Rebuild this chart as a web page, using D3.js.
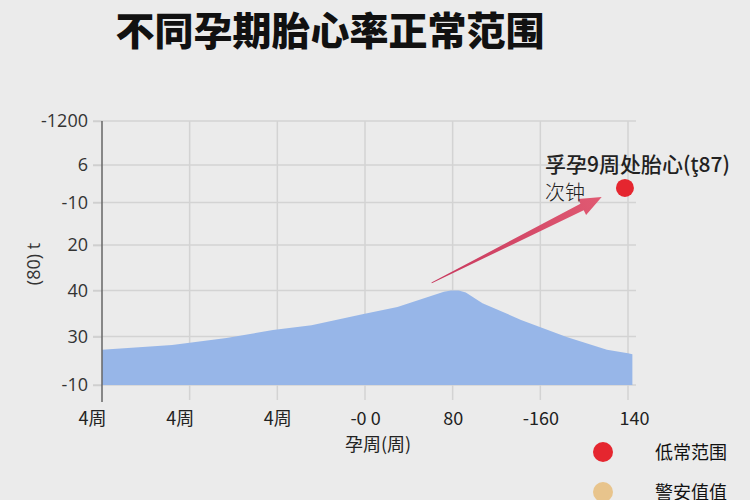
<!DOCTYPE html>
<html><head><meta charset="utf-8">
<script src="https://cdn.jsdelivr.net/npm/d3@7"></script>
<style>
html,body{margin:0;padding:0;background:#ebebeb;}
svg{display:block;font-family:"Noto Sans CJK SC","Noto Sans",sans-serif;}
</style></head>
<body><svg id="c" width="750" height="500"></svg>
<script>
// ---- data ----
const title = "不同孕期胎心率正常范围";
const xTickValues = [0, 1, 2, 3, 4, 5, 6];
const xTickLabels = ["4周", "4周", "4周", "-0 0", "80", "-160", "140"];
const yTickValues = [0, 1.1, 2.15, 3.18, 4.15, 5.0, 6.0];
const yTickLabels = ["-10", "30", "40", "20", "-10", "6", "-1200"];
const areaX = [0, 0.8, 1.42, 1.95, 2.39, 2.97, 3.37, 3.7, 3.9, 3.98, 4.07, 4.15, 4.34, 4.78, 5.3, 5.76, 6.0, 6.05];
const areaY = [0.8, 0.91, 1.07, 1.25, 1.36, 1.61, 1.77, 1.99, 2.12, 2.15, 2.15, 2.1, 1.86, 1.48, 1.09, 0.8, 0.72, 0.7];
const arrowFrom = [3.76, 2.32];
const arrowTo = [5.70, 4.27];
const highlight = [5.965, 4.48];
const annotationLines = ["孚孕9周处胎心(ţ87)", "次钟"];
const xTitle = "孕周(周)";
const yTitle = "(80) t";
const legendLabels = ["低常范围", "警安值值"];
const legendColors = ["#e5262f", "#e8c48c"];

// ---- chart ----
const svg = d3.select("#c");
const x = d3.scaleLinear().domain([0, 6]).range([102, 628]);
const y = d3.scaleLinear().domain([0, 6]).range([385, 121]);

svg.append("text").attr("x", 330).attr("y", 45).attr("text-anchor", "middle")
  .attr("font-size", 39).attr("font-weight", 900).attr("fill", "#111").text(title);

// gridlines
const grid = svg.append("g").attr("stroke", "#d3d3d3").attr("stroke-width", 1.5);
grid.selectAll("line.h").data(yTickValues).join("line").attr("class", "h")
  .attr("x1", x(0) - 9).attr("x2", x(6) + 8).attr("y1", d => y(d)).attr("y2", d => y(d));
grid.selectAll("line.v").data(xTickValues.slice(1)).join("line").attr("class", "v")
  .attr("x1", d => x(d)).attr("x2", d => x(d)).attr("y1", y(6)).attr("y2", y(0) + 15);

// area
const pts = areaX.map((d, i) => [d, areaY[i]]);
const area = d3.area().x(d => x(d[0])).y0(y(0)).y1(d => y(d[1])).curve(d3.curveLinear);
svg.append("path").datum(pts).attr("d", area).attr("fill", "#97b6e8");

// y axis
const yAxis = d3.axisLeft(y).tickValues(yTickValues).tickFormat((d, i) => yTickLabels[i]).tickSize(9).tickPadding(5);
const gy = svg.append("g").attr("transform", `translate(${x(0)},0)`).call(yAxis);
gy.select(".domain").remove();
gy.selectAll(".tick line").attr("stroke", "#cfcfcf").attr("stroke-width", 1.5);
gy.selectAll(".tick text").attr("font-size", 18).attr("fill", "#333").attr("font-family", "'Open Sans', 'Noto Sans', sans-serif");
svg.append("line").attr("x1", x(0)).attr("x2", x(0)).attr("y1", y(6)).attr("y2", y(0) + 17)
  .attr("stroke", "#666").attr("stroke-width", 1.5);

// x axis
const xAxis = d3.axisBottom(x).tickValues(xTickValues).tickFormat((d, i) => xTickLabels[i]).tickSize(0).tickPadding(27);
const gx = svg.append("g").attr("transform", `translate(0,${y(0)})`).call(xAxis);
gx.select(".domain").remove();
gx.selectAll(".tick text").attr("font-size", 18).attr("fill", "#222").attr("font-family", "'Noto Sans CJK SC', sans-serif")
  .attr("dx", (d, i) => i < 2 ? -10 : (i === 6 ? 6 : 0));

svg.append("text").attr("x", 378).attr("y", 451).attr("text-anchor", "middle")
  .attr("font-size", 18).attr("fill", "#222").text(xTitle);
svg.append("text").attr("transform", "translate(40,264) rotate(-90)").attr("text-anchor", "middle")
  .attr("font-size", 18).attr("fill", "#333").attr("font-family", "'Open Sans', sans-serif").text(yTitle);

// arrow
const [ax, ay] = [x(arrowFrom[0]), y(arrowFrom[1])];
const [bx, by] = [x(arrowTo[0]), y(arrowTo[1])];
const len = Math.hypot(bx - ax, by - ay), ux = (bx - ax) / len, uy = (by - ay) / len;
const nx = -uy, ny = ux, headLen = 22, headW = 9, shaftW = 3.6;
const hb = [bx - ux * headLen, by - uy * headLen];
const poly = [
  [ax + nx * 0.4, ay + ny * 0.4],
  [hb[0] + nx * shaftW, hb[1] + ny * shaftW],
  [hb[0] + nx * headW, hb[1] + ny * headW],
  [bx, by],
  [hb[0] - nx * headW, hb[1] - ny * headW],
  [hb[0] - nx * shaftW, hb[1] - ny * shaftW],
  [ax - nx * 0.4, ay - ny * 0.4]
];
const grad = svg.append("defs").append("linearGradient").attr("id", "ag")
  .attr("gradientUnits", "userSpaceOnUse").attr("x1", ax).attr("y1", ay).attr("x2", bx).attr("y2", by);
grad.append("stop").attr("offset", 0).attr("stop-color", "#c8385e");
grad.append("stop").attr("offset", 1).attr("stop-color", "#e05a72");
svg.append("path").attr("d", d3.line()(poly) + "Z").attr("fill", "url(#ag)");

// highlight point
svg.append("circle").attr("cx", x(highlight[0])).attr("cy", y(highlight[1])).attr("r", 9).attr("fill", "#e5262f");
svg.selectAll("text.ann").data(annotationLines).join("text").attr("class", "ann")
  .attr("x", 545).attr("y", (d, i) => 172 + i * 28).attr("font-size", (d, i) => i ? 20 : 21)
  .attr("font-weight", (d, i) => i ? 300 : 500).attr("fill", "#222").text(d => d);

// legend
const lg = svg.selectAll("g.lg").data(legendLabels).join("g").attr("class", "lg")
  .attr("transform", (d, i) => `translate(603,${452 + i * 40})`);
lg.append("circle").attr("r", 10).attr("fill", (d, i) => legendColors[i]);
lg.append("text").attr("x", 52).attr("y", 7).attr("font-size", 18).attr("fill", "#111").text(d => d);
</script></body></html>
